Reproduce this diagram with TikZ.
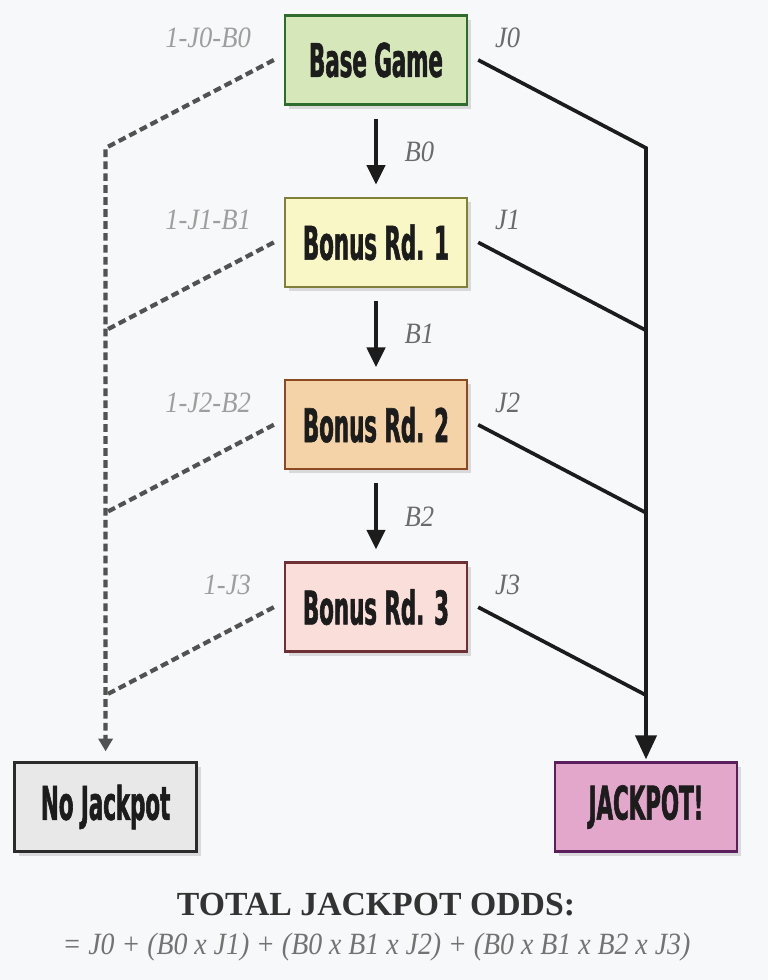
\documentclass[tikz,border=0pt]{standalone}
\usepackage{fontspec}
\setmainfont{Liberation Serif}
\newfontfamily\boxfont[FakeStretch=0.46, FakeBold=1.2]{DejaVu Sans}
\newfontfamily\lblfont[FakeStretch=0.9]{Liberation Serif}
\definecolor{jpbg}{HTML}{F7F8FA}
\definecolor{jpgreen}{HTML}{D6E7BA}
\definecolor{jpgreendk}{HTML}{2F6B2E}
\definecolor{jpyellow}{HTML}{FAF7C6}
\definecolor{jpyellowdk}{HTML}{80803A}
\definecolor{jppeach}{HTML}{F4D3A8}
\definecolor{jppeachdk}{HTML}{8C4A22}
\definecolor{jprose}{HTML}{F9DEDA}
\definecolor{jprosedk}{HTML}{6E3034}
\definecolor{jpgrey}{HTML}{E8E8E8}
\definecolor{jpgreydk}{HTML}{2B2B2B}
\definecolor{jppink}{HTML}{E2A7CB}
\definecolor{jppinkdk}{HTML}{5C1F5E}
\definecolor{jpink}{HTML}{1C1C1C}
\usepackage{tikz}
\usetikzlibrary{arrows.meta, positioning, shadows, calc}

\begin{document}
\begin{tikzpicture}[
  stage/.style={draw, line width=1.7pt, minimum width=4.55cm, minimum height=2.225cm,
                font=\boxfont\bfseries\fontsize{33}{36}\selectfont, text=jpink,
                drop shadow={shadow xshift=3pt, shadow yshift=-3pt, opacity=0.25}},
  oddlbl/.style={font=\lblfont\itshape\fontsize{21}{23}\selectfont, text=black!38},
  winlbl/.style={font=\lblfont\itshape\fontsize{21}{23}\selectfont, text=black!58},
  win/.style={line width=2.6pt, draw=jpink},
  lose/.style={line width=3pt, draw=black!68, dash pattern=on 5.5pt off 3pt},
  adv/.style={line width=2.6pt, draw=jpink, -{Triangle[width=13pt, length=14pt]}},
]
  \fill[jpbg] (0,0) rectangle (19.2,24.5);
  \useasboundingbox (0,0) rectangle (19.2,24.5);

  \node[stage, fill=jpgreen, draw=jpgreendk] (base) at (9.4,23) {Base Game};
  \node[stage, fill=jpyellow, draw=jpyellowdk, below=2.275cm of base] (bonus1) {Bonus Rd. 1};
  \node[stage, fill=jppeach, draw=jppeachdk, below=2.275cm of bonus1] (bonus2) {Bonus Rd. 2};
  \node[stage, fill=jprose, draw=jprosedk, below=2.275cm of bonus2] (bonus3) {Bonus Rd. 3};
  \node[stage, fill=jpgrey, draw=jpgreydk] (nojack) at (2.64,4.325) {No Jackpot};
  \node[stage, fill=jppink, draw=jppinkdk] (jack) at (16.15,4.325) {JACKPOT!};

  \coordinate (lj0) at ($(base.center -| nojack.center)+(0,-2.2)$);
  \coordinate (lj1) at ($(bonus1.center -| nojack.center)+(0,-2.2)$);
  \coordinate (lj2) at ($(bonus2.center -| nojack.center)+(0,-2.2)$);
  \coordinate (lj3) at ($(bonus3.center -| nojack.center)+(0,-2.2)$);
  \coordinate (rj0) at ($(base.center -| jack.center)+(0,-2.2)$);
  \coordinate (rj1) at ($(bonus1.center -| jack.center)+(0,-2.2)$);
  \coordinate (rj2) at ($(bonus2.center -| jack.center)+(0,-2.2)$);
  \coordinate (rj3) at ($(bonus3.center -| jack.center)+(0,-2.2)$);

  \draw[adv] ([yshift=-0.325cm]base.south) -- node[winlbl, right=0.55cm] (b0) {B0} ([yshift=0.3cm]bonus1.north);
  \draw[adv] ([yshift=-0.325cm]bonus1.south) -- node[winlbl, right=0.55cm] (b1) {B1} ([yshift=0.3cm]bonus2.north);
  \draw[adv] ([yshift=-0.325cm]bonus2.south) -- node[winlbl, right=0.55cm] (b2) {B2} ([yshift=0.3cm]bonus3.north);

  \draw[lose, -{Triangle[width=10pt, length=9pt]}] ([xshift=-0.25cm]base.west) -- (lj0)
    -- ([yshift=0.25cm]nojack.north);
  \draw[lose] ([xshift=-0.25cm]bonus1.west) -- (lj1);
  \draw[lose] ([xshift=-0.25cm]bonus2.west) -- (lj2);
  \draw[lose] ([xshift=-0.25cm]bonus3.west) -- (lj3);

  \draw[win, -{Triangle[width=15pt, length=17pt]}] ([xshift=0.25cm]base.east) -- (rj0)
    -- ([yshift=0.05cm]jack.north);
  \draw[win] ([xshift=0.25cm]bonus1.east) -- (rj1);
  \draw[win] ([xshift=0.25cm]bonus2.east) -- (rj2);
  \draw[win] ([xshift=0.25cm]bonus3.east) -- (rj3);

  \node[oddlbl, anchor=east] (q0) at ([xshift=-0.7cm, yshift=0.55cm]base.west) {1-J0-B0};
  \node[oddlbl, anchor=east] (q1) at ([xshift=-0.7cm, yshift=0.55cm]bonus1.west) {1-J1-B1};
  \node[oddlbl, anchor=east] (q2) at ([xshift=-0.7cm, yshift=0.55cm]bonus2.west) {1-J2-B2};
  \node[oddlbl, anchor=east] (q3) at ([xshift=-0.7cm, yshift=0.55cm]bonus3.west) {1-J3};
  \node[winlbl, anchor=west] (j0) at ([xshift=0.55cm, yshift=0.55cm]base.east) {J0};
  \node[winlbl, anchor=west] (j1) at ([xshift=0.55cm, yshift=0.55cm]bonus1.east) {J1};
  \node[winlbl, anchor=west] (j2) at ([xshift=0.55cm, yshift=0.55cm]bonus2.east) {J2};
  \node[winlbl, anchor=west] (j3) at ([xshift=0.55cm, yshift=0.55cm]bonus3.east) {J3};

  \node[font=\bfseries\fontsize{24}{28}\selectfont, text=black!80] (title) at (9.4,1.875) {TOTAL JACKPOT ODDS:};
  \node[font=\lblfont\itshape\fontsize{22}{24}\selectfont, text=black!55] (odds) at (9.41,0.825)
    {= J0 + (B0 x J1) + (B0 x B1 x J2) + (B0 x B1 x B2 x J3)};
\end{tikzpicture}
\end{document}
